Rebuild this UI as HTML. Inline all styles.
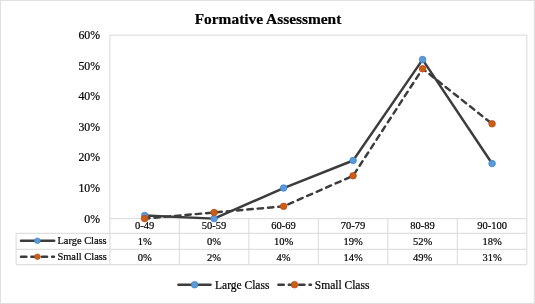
<!DOCTYPE html>
<html><head><meta charset="utf-8"><title>Formative Assessment</title>
<style>
html,body{margin:0;padding:0;background:#fff;}
svg{display:block;font-family:"Liberation Serif","Times New Roman",serif;fill:#000;}
text{stroke:#000;stroke-width:0.2px;}
</style></head><body>
<svg width="535" height="304" viewBox="0 0 535 304">
<rect x="0" y="0" width="535" height="304" fill="#fff"/>
<rect x="0.4" y="0.4" width="533.9" height="303.1" fill="none" stroke="#dfdfdf" stroke-width="1.2"/>

<text x="268" y="24" text-anchor="middle" font-size="15.4" font-weight="bold">Formative Assessment</text>
<g stroke="#dfdfdf" stroke-width="1.2" fill="none">
<rect x="109.9" y="35.1" width="416.9" height="183.5"/>
<path d="M109.9 218.6V264.6 M526.8 218.6V264.6 M16.1 233.35V264.6 M16.1 233.35H526.8 M16.1 249.4H526.8 M16.1 264.6H526.8"/>
<path d="M179.38 218.6V264.6"/>
<path d="M248.87 218.6V264.6"/>
<path d="M318.35 218.6V264.6"/>
<path d="M387.83 218.6V264.6"/>
<path d="M457.32 218.6V264.6"/>
</g>
<text x="100" y="222.50" text-anchor="end" font-size="11.8">0%</text>
<text x="100" y="191.92" text-anchor="end" font-size="11.8">10%</text>
<text x="100" y="161.33" text-anchor="end" font-size="11.8">20%</text>
<text x="100" y="130.75" text-anchor="end" font-size="11.8">30%</text>
<text x="100" y="100.17" text-anchor="end" font-size="11.8">40%</text>
<text x="100" y="69.58" text-anchor="end" font-size="11.8">50%</text>
<text x="100" y="39.00" text-anchor="end" font-size="11.8">60%</text>
<text x="144.64" y="229.2" text-anchor="middle" font-size="10.5">0-49</text>
<text x="144.64" y="244.5" text-anchor="middle" font-size="10.5">1%</text>
<text x="144.64" y="260.6" text-anchor="middle" font-size="10.5">0%</text>
<text x="214.12" y="229.2" text-anchor="middle" font-size="10.5">50-59</text>
<text x="214.12" y="244.5" text-anchor="middle" font-size="10.5">0%</text>
<text x="214.12" y="260.6" text-anchor="middle" font-size="10.5">2%</text>
<text x="283.61" y="229.2" text-anchor="middle" font-size="10.5">60-69</text>
<text x="283.61" y="244.5" text-anchor="middle" font-size="10.5">10%</text>
<text x="283.61" y="260.6" text-anchor="middle" font-size="10.5">4%</text>
<text x="353.09" y="229.2" text-anchor="middle" font-size="10.5">70-79</text>
<text x="353.09" y="244.5" text-anchor="middle" font-size="10.5">19%</text>
<text x="353.09" y="260.6" text-anchor="middle" font-size="10.5">14%</text>
<text x="422.58" y="229.2" text-anchor="middle" font-size="10.5">80-89</text>
<text x="422.58" y="244.5" text-anchor="middle" font-size="10.5">52%</text>
<text x="422.58" y="260.6" text-anchor="middle" font-size="10.5">49%</text>
<text x="492.06" y="229.2" text-anchor="middle" font-size="10.5">90-100</text>
<text x="492.06" y="244.5" text-anchor="middle" font-size="10.5">18%</text>
<text x="492.06" y="260.6" text-anchor="middle" font-size="10.5">31%</text>
<text x="57.5" y="244.1" font-size="10.4">Large Class</text>
<text x="57.5" y="260.2" font-size="10.4">Small Class</text>
<path d="M21 240.8H54.2" stroke="#3c3c3c" stroke-width="2.45" stroke-linecap="round" fill="none"/>
<circle cx="37.4" cy="240.8" r="2.8" fill="#5b9bd5" stroke="#3f84d4" stroke-width="0.7"/>
<path d="M21 256.75H54" stroke="#3c3c3c" stroke-width="2.45" stroke-dasharray="5.4 4.96" stroke-linecap="round" fill="none"/>
<circle cx="37.4" cy="256.75" r="2.8" fill="#c9600f" stroke="#c2452a" stroke-width="0.7"/>
<polyline points="144.64,215.54 214.12,218.60 283.61,188.02 353.09,160.49 422.58,59.57 492.06,163.55" fill="none" stroke="#3c3c3c" stroke-width="2.45" stroke-linejoin="round" stroke-linecap="round"/>
<polyline points="144.64,218.60 214.12,212.48 283.61,206.37 353.09,175.78 422.58,68.74 492.06,123.79" fill="none" stroke="#3c3c3c" stroke-width="2.45" stroke-dasharray="5.4 4.96" stroke-dashoffset="0.5" stroke-linecap="round" stroke-linejoin="round"/>
<circle cx="144.64" cy="215.54" r="3.3" fill="#5b9bd5" stroke="#3f84d4" stroke-width="0.8"/>
<circle cx="214.12" cy="218.60" r="3.3" fill="#5b9bd5" stroke="#3f84d4" stroke-width="0.8"/>
<circle cx="283.61" cy="188.02" r="3.3" fill="#5b9bd5" stroke="#3f84d4" stroke-width="0.8"/>
<circle cx="353.09" cy="160.49" r="3.3" fill="#5b9bd5" stroke="#3f84d4" stroke-width="0.8"/>
<circle cx="422.58" cy="59.57" r="3.3" fill="#5b9bd5" stroke="#3f84d4" stroke-width="0.8"/>
<circle cx="492.06" cy="163.55" r="3.3" fill="#5b9bd5" stroke="#3f84d4" stroke-width="0.8"/>
<circle cx="144.64" cy="218.60" r="3.3" fill="#c9600f" stroke="#c2452a" stroke-width="0.8"/>
<circle cx="214.12" cy="212.48" r="3.3" fill="#c9600f" stroke="#c2452a" stroke-width="0.8"/>
<circle cx="283.61" cy="206.37" r="3.3" fill="#c9600f" stroke="#c2452a" stroke-width="0.8"/>
<circle cx="353.09" cy="175.78" r="3.3" fill="#c9600f" stroke="#c2452a" stroke-width="0.8"/>
<circle cx="422.58" cy="68.74" r="3.3" fill="#c9600f" stroke="#c2452a" stroke-width="0.8"/>
<circle cx="492.06" cy="123.79" r="3.3" fill="#c9600f" stroke="#c2452a" stroke-width="0.8"/>
<path d="M178.4 284.7H210.6" stroke="#3c3c3c" stroke-width="2.45" stroke-linecap="round" fill="none"/>
<circle cx="194.6" cy="284.7" r="3.3" fill="#5b9bd5" stroke="#3f84d4" stroke-width="0.8"/>
<text x="215" y="288.9" font-size="11.5">Large Class</text>
<path d="M278.4 284.7H311" stroke="#3c3c3c" stroke-width="2.45" stroke-dasharray="5.4 4.96" stroke-linecap="round" fill="none"/>
<circle cx="294.5" cy="284.7" r="3.3" fill="#c9600f" stroke="#c2452a" stroke-width="0.8"/>
<text x="314.8" y="288.9" font-size="11.5">Small Class</text>
</svg></body></html>
